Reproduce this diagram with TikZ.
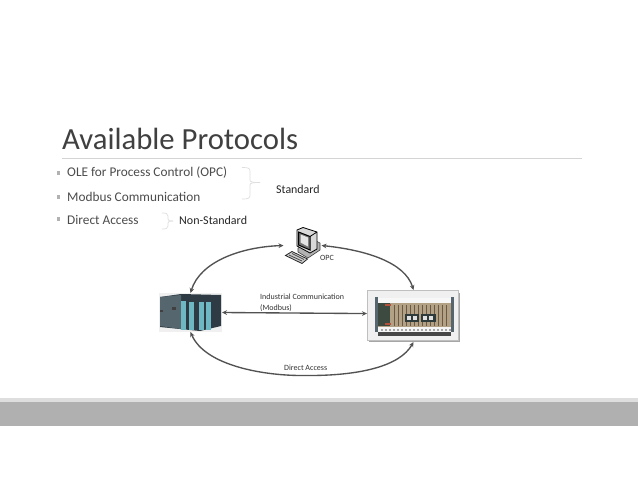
\documentclass[tikz,border=0pt]{standalone}
\usepackage{fontspec}
\setmainfont{Carlito}
\usetikzlibrary{arrows.meta}
\definecolor{txt}{gray}{0.25}
\definecolor{teal1}{HTML}{6DB8C2}
\definecolor{plcdark}{HTML}{2E3B44}
\definecolor{plcside}{HTML}{55666F}
\definecolor{slotbg}{HTML}{B3A186}
\definecolor{slotleft}{HTML}{3C4A40}
\definecolor{slotline}{HTML}{6A5A45}
\definecolor{cardbg}{HTML}{2F3B3B}
\definecolor{cardred}{HTML}{B5503A}
\tikzset{
  x=1pt,y=-1pt,
  lbl/.style={inner sep=0pt,anchor=west,text=txt},
  bullettext/.style={lbl,font=\fontsize{13.3}{15}\selectfont,text=black!70},
  small/.style={lbl,font=\fontsize{8}{9}\selectfont,text=black!80},
  brace/.style={draw=black!13,line width=0.7pt},
  bul/.style={fill=black!30,draw=none},
  link/.style={draw=black!68,line width=1.35pt,{Stealth[length=5pt,width=4.6pt]}-{Stealth[length=5pt,width=4.6pt]}},
  box/.style={inner sep=0pt,outer sep=0pt,draw=none},
}
\begin{document}
\begin{tikzpicture}
\useasboundingbox (0,0) rectangle (638,493);
\fill[white] (0,0) rectangle (638,493);
% bottom band
\fill[black!13] (0,398) rectangle (638,402);
\fill[black!31] (0,402) rectangle (638,426);
% title
\node[lbl,font=\fontsize{30.7}{34}\selectfont] (title) at (62,139) {Available Protocols};
\draw[black!17,line width=0.8pt] (62,158) -- (582,158);
% bullets
\fill[bul] (56.5,170.5) rectangle (60,174.5);
\fill[bul] (56.5,194.5) rectangle (60,198.5);
\fill[bul] (56.5,217) rectangle (60,221);
\node[bullettext] (b1) at (67,173) {OLE for Process Control (OPC)};
\node[bullettext] (b2) at (67,197) {Modbus Communication};
\node[bullettext] (b3) at (67,220) {Direct Access};
% braces
\draw[brace] (242,167.5) .. controls (248,167.5) and (250,168) .. (250,171) -- (250,180) .. controls (250,182) and (252,182.5) .. (260,182.5);
\draw[brace] (242,199) .. controls (248,199) and (250,198.5) .. (250,195) -- (250,185) .. controls (250,183) and (252,182.5) .. (260,182.5);
\draw[brace] (162,213) .. controls (166,213) and (168,213.5) .. (168,216) -- (168,219) .. controls (168,220.5) and (169,221) .. (173,221);
\draw[brace] (162,229) .. controls (166,229) and (168,228.5) .. (168,226) -- (168,223) .. controls (168,221.5) and (169,221) .. (173,221);
\node[lbl,font=\fontsize{11.9}{13}\selectfont,text=black!85] (std) at (276,189) {Standard};
\node[lbl,font=\fontsize{12}{13}\selectfont,text=black!85] (nstd) at (179,220.5) {Non-Standard};
% device nodes
\node[box,minimum width=38pt,minimum height=37pt] (pc) at (302.5,245.5) {};
\node[box,minimum width=63pt,minimum height=39pt] (plc) at (190.5,312.5) {};
\node[box,minimum width=93pt,minimum height=52pt] (rack) at (413.5,316) {};
% PC icon
\fill[black!30,draw=black!75,line width=0.6pt] (298,248) -- (298,252) -- (308,258) -- (320,250) -- (320,243) -- (316,241) -- cycle;
\fill[black!15,draw=black,line width=0.8pt] (297,230) -- (303,227.5) -- (317,232) -- (317,249) -- (310,253) -- (297,246) -- cycle;
\fill[black!55,draw=black,line width=1pt] (298.5,232) -- (310,236.5) -- (310,250) -- (298.5,245) -- cycle;
\fill[black!10] (300.5,234.5) -- (308,237.5) -- (308,246.5) -- (300.5,242.5) -- cycle;
\draw[black,line width=0.8pt] (310,236.5) -- (317,232);
\fill[black!20,draw=black!85,line width=0.8pt] (285.5,255.5) -- (292,251.5) -- (307.5,259) -- (302,263.5) -- cycle;
\draw[black!70,line width=0.8pt] (289,255) -- (302,261);
\draw[black!70,line width=0.8pt] (292,253.5) -- (304,259.5);
% PLC
\fill[black!6] (159,293) rectangle (222,332);
\fill[plcdark] (160,297) -- (181,294) -- (221,295) -- (221,326) -- (200,331) -- (160,327) -- cycle;
\fill[plcside] (160,297) -- (181,295) -- (181,329) -- (160,326) -- cycle;
\fill[teal1] (181,301) rectangle (185.5,330);
\fill[teal1] (189,302) rectangle (194,330);
\fill[teal1] (199,302) rectangle (204,330);
\fill[teal1] (206,302) rectangle (210.5,330);
\fill[black!75] (160,310) rectangle (163,312);
\fill[black!75] (172,307) rectangle (176,310);
% rack
\fill[black!35] (369,293) rectangle (460,342);
\fill[black!6,draw=black!25,line width=0.5pt] (367,290) rectangle (458,340);
\fill[black!3] (378,298) rectangle (451,303);
\fill[slotbg] (378,303) rectangle (451,327);
\fill[slotleft] (378,303) rectangle (390,326);
\foreach \s in {394,398,...,446} \draw[slotline,line width=0.7pt] (\s,305) -- (\s,326);
\fill[cardbg] (405,314) rectangle (419,322);
\fill[cardbg] (421,314) rectangle (436,322);
\fill[black!12] (407,316) rectangle (411,320);\fill[black!12] (413,316) rectangle (417,320);
\fill[black!12] (423,316) rectangle (427,320);\fill[black!12] (429,316) rectangle (433,320);
\fill[cardred] (385,304) rectangle (391,306);
\fill[cardred] (385,323) rectangle (391,325);
\fill[black!4] (378,327) rectangle (451,332);
\foreach \s in {381,385,...,449} \fill[black!35] (\s,328.5) rectangle +(2,2);
\fill[black!72] (378,332) rectangle (451,335.5);
\fill[plcside] (375,297) rectangle (378,332);
\fill[plcside] (451,297) rectangle (453.5,332);
% connectors
\draw[link] (pc.west) .. controls (240,247) and (200,262) .. (plc.north);
\draw[link] (pc.east) .. controls (365,250) and (405,262) .. (rack.north);
\draw[link] (plc.east) -- (rack.177);
\draw[link] (plc.south) .. controls (205,366) and (265,376) .. (305,375.5) .. controls (360,376) and (400,366) .. (rack.south);
% small labels
\node[small] (opc) at (320,257.5) {OPC};
\node[small] (ic) at (260,297) {Industrial Communication};
\node[small] (mb) at (260,308) {(Modbus)};
\node[small] (da) at (284,368) {Direct Access};
\end{tikzpicture}
\end{document}
